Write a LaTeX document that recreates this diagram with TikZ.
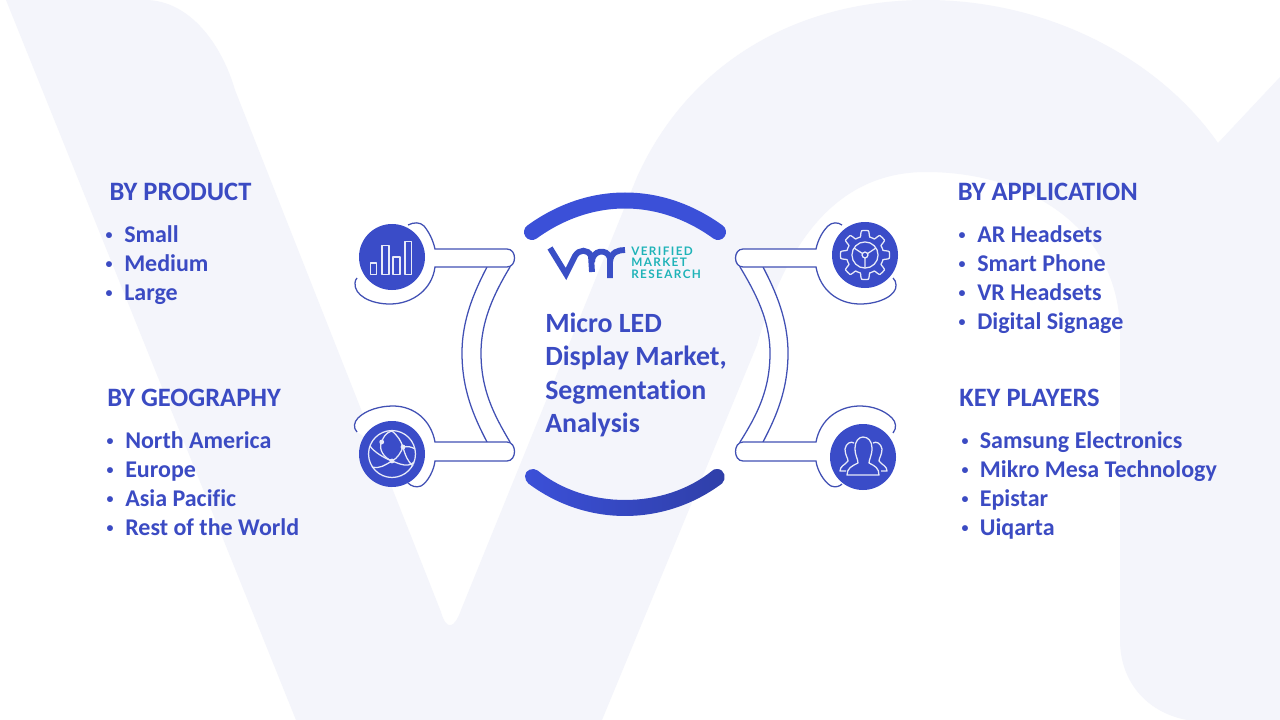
\documentclass[tikz,border=0pt]{standalone}
\usepackage{fontspec}
\setmainfont[Ligatures=CommonOff]{Carlito}
\newfontfamily\logofont[LetterSpace=12]{Lato}
\definecolor{wash}{HTML}{F4F5FB}
\definecolor{ink}{HTML}{3B4BC3}
\definecolor{ringblue}{HTML}{3B50D8}
\definecolor{ringdark}{HTML}{2F3FA8}
\definecolor{outline}{HTML}{4150B4}
\definecolor{disc}{HTML}{3A4CC8}
\definecolor{teal}{HTML}{1FB3B8}
\definecolor{logoblue}{HTML}{3A4FC6}
\tikzset{
  heading/.style={anchor=base west,inner sep=0pt,text=ink,font=\fontsize{19.9}{22}\selectfont\bfseries},
  entry/.style={anchor=base west,inner sep=0pt,text=ink,font=\fontsize{18}{20}\selectfont\bfseries},
  dotmark/.style={anchor=base,inner sep=0pt,text=ink,font=\fontsize{10.5}{11}\selectfont\bfseries},
  title/.style={anchor=base west,inner sep=0pt,text=ink,font=\fontsize{20.9}{23}\selectfont\bfseries},
  logotext/.style={anchor=base west,inner sep=0pt,text=teal,font=\fontsize{8.8}{9}\selectfont\logofont\bfseries},
  disc/.style={circle,fill=disc,draw=none,minimum size=49.5pt,inner sep=0pt},
  wire/.style={draw=outline,line width=0.95pt},
  mask/.style={fill=white,draw=none},
  glyph/.style={draw=white!88!disc,line width=0.95pt,line join=round},
  logostroke/.style={draw=logoblue,line width=4.4pt,line join=miter}
}
\newcommand{\listitem}[5]{%
  \node[dotmark] (#1b) at (#2,#4-3) {•};
  \node[entry] (#1) at (#3,#4+0.8) {#5};
}
\begin{document}
\begin{tikzpicture}[x=0.75pt,y=-0.75pt]
\useasboundingbox (0,0) rectangle (1280,720);
\fill[white] (0,0) rectangle (1280,720);
% watermark
\fill[wash] (6,0) -- (145,0) .. controls (190,0) and (222,45) .. (235,90)
  -- (441,612) .. controls (446,630) and (454,630) .. (461,610)
  -- (637,177) .. controls (690,60) and (800,0) .. (926,0)
  .. controls (1050,0) and (1160,60) .. (1218,143)
  -- (1280,77) -- (1280,720) -- (1187,720)
  .. controls (1145,712) and (1120,680) .. (1120,640)
  -- (1120,333) .. controls (1120,230) and (1030,172) .. (926,172)
  .. controls (835,172) and (785,245) .. (757,345)
  -- (602,720) -- (296,720) -- cycle;
% top and bottom arcs
\draw[draw=ringblue,line width=12pt,line cap=round] (532,232) .. controls (590,190) and (660,190) .. (718,232);
\shade[left color=ringblue,right color=ringdark]
  (528.4,483.5) .. controls (586,526.8) and (664,526.8) .. (722,483.5)
  .. controls (727,479) and (725,469) .. (717,469) .. controls (714,469) and (713,470) .. (712.5,470.5)
  .. controls (664,509.8) and (586,509.8) .. (537.6,470.5)
  .. controls (533,467) and (525,470) .. (525,476) .. controls (525,479) and (526.5,482) .. (528.4,483.5) -- cycle;
% left bands
\path[mask] (487,267) .. controls (474,292) and (462,320) .. (462,353) .. controls (462,390) and (474,417) .. (487,442)
  -- (510,442) .. controls (494,415) and (481,390) .. (481,353) .. controls (481,320) and (495,292) .. (510,267) -- cycle;
\draw[wire] (487,267) .. controls (474,292) and (462,320) .. (462,353) .. controls (462,390) and (474,417) .. (487,442);
\draw[wire] (510,267) .. controls (495,292) and (481,320) .. (481,353) .. controls (481,390) and (494,415) .. (510,442);
% right bands
\path[mask] (740,267) .. controls (755,292) and (770,320) .. (770,353) .. controls (770,390) and (757,415) .. (740,442)
  -- (763,442) .. controls (776,417) and (788,390) .. (788,353) .. controls (788,320) and (776,292) .. (763,267) -- cycle;
\draw[wire] (740,267) .. controls (755,292) and (770,320) .. (770,353) .. controls (770,390) and (757,415) .. (740,442);
\draw[wire] (763,267) .. controls (776,292) and (788,320) .. (788,353) .. controls (788,390) and (776,417) .. (763,442);
% top-left connector
\path[mask] (408,225) .. controls (414,222) and (420,222) .. (424,226) .. controls (429,232) and (433,240) .. (435,249)
  -- (507,249) .. controls (517,249) and (517,267) .. (507,267) -- (435,267)
  .. controls (432,290) and (412,304) .. (390,304) .. controls (370,304) and (354,295) .. (355,283)
  .. controls (355,281) and (356,279) .. (357,278) -- (392,257) -- cycle;
\draw[wire] (408,225) .. controls (414,222) and (420,222) .. (424,226) .. controls (429,232) and (433,240) .. (435,249)
  -- (507,249) .. controls (517,249) and (517,267) .. (507,267) -- (435,267)
  .. controls (432,290) and (412,304) .. (390,304) .. controls (370,304) and (354,295) .. (355,283)
  .. controls (355,281) and (356,279) .. (357,278);
% bottom-left connector
\path[mask] (357,432) .. controls (353,428) and (354,422) .. (358,418) .. controls (366,410) and (380,406) .. (393,406)
  .. controls (414,406) and (431,420) .. (435,442)
  -- (507,442) .. controls (517,442) and (517,461) .. (507,461) -- (435,461)
  .. controls (434,470) and (428,482) .. (421,486) .. controls (416,488) and (411,486) .. (408,483) -- (392,454) -- cycle;
\draw[wire] (357,432) .. controls (353,428) and (354,422) .. (358,418) .. controls (366,410) and (380,406) .. (393,406)
  .. controls (414,406) and (431,420) .. (435,442)
  -- (507,442) .. controls (517,442) and (517,461) .. (507,461) -- (435,461)
  .. controls (434,470) and (428,482) .. (421,486) .. controls (416,488) and (411,486) .. (408,483);
% top-right connector
\path[mask] (842,225) .. controls (838,222) and (832,222) .. (828,226) .. controls (822,232) and (818,240) .. (816,249)
  -- (743,249) .. controls (733,249) and (733,267) .. (743,267) -- (816,267)
  .. controls (820,290) and (838,304) .. (860,304) .. controls (880,304) and (897,295) .. (896,285)
  .. controls (896,282) and (895,280) .. (893,278) -- (865,254) -- cycle;
\draw[wire] (842,225) .. controls (838,222) and (832,222) .. (828,226) .. controls (822,232) and (818,240) .. (816,249)
  -- (743,249) .. controls (733,249) and (733,267) .. (743,267) -- (816,267)
  .. controls (820,290) and (838,304) .. (860,304) .. controls (880,304) and (897,295) .. (896,285)
  .. controls (896,282) and (895,280) .. (893,278);
% bottom-right connector
\path[mask] (893,433) .. controls (897,428) and (896,422) .. (892,418) .. controls (884,410) and (872,406) .. (860,406)
  .. controls (838,406) and (820,420) .. (816,442)
  -- (743,442) .. controls (733,442) and (733,461) .. (743,461) -- (816,461)
  .. controls (817,470) and (824,482) .. (831,486) .. controls (836,488) and (840,486) .. (842,484) -- (863,457) -- cycle;
\draw[wire] (893,433) .. controls (897,428) and (896,422) .. (892,418) .. controls (884,410) and (872,406) .. (860,406)
  .. controls (838,406) and (820,420) .. (816,442)
  -- (743,442) .. controls (733,442) and (733,461) .. (743,461) -- (816,461)
  .. controls (817,470) and (824,482) .. (831,486) .. controls (836,488) and (840,486) .. (842,484);
% discs
\node[disc] (chart) at (392,257) {};
\node[disc] (globe) at (392,454) {};
\node[disc] (gear) at (865,255) {};
\node[disc] (people) at (863,457) {};
% bar chart icon
\draw[glyph] (370.7,263) rectangle (376.7,274.5);
\draw[glyph] (382,245.7) rectangle (389,274.5);
\draw[glyph] (393,257) rectangle (400,274.5);
\draw[glyph] (405,241.7) rectangle (411.7,274.5);
% globe icon
\draw[glyph] (392,454) circle[radius=17.6pt];
\draw[glyph] (392,431) .. controls (385,433) and (383,438) .. (381.7,442) .. controls (378,449) and (384,458) .. (392,461);
\draw[glyph] (392,431) .. controls (398,436) and (401,441) .. (403,447) .. controls (405,455) and (408,462) .. (413,466);
\draw[glyph] (370,446) .. controls (374,452) and (384,458) .. (392,461) .. controls (398,458) and (401,452) .. (403,447) .. controls (408,446) and (412,447) .. (415,449);
\draw[glyph] (372,467) .. controls (380,469) and (385,465) .. (392,461) .. controls (400,464) and (408,468) .. (414,462);
\fill[white!88!disc] (381.7,442) circle[radius=1.8pt] (403,447) circle[radius=1.8pt] (392,461) circle[radius=1.8pt];
% gear icon
\draw[glyph] plot[domain=0:360,samples=193,variable=\t,smooth] ({865+(21.5+3*max(-1,min(1,2.6*cos(8*\t))))*cos(\t)},{255+(21.5+3*max(-1,min(1,2.6*cos(8*\t))))*sin(\t)}) -- cycle;
\draw[glyph] (865,255) circle[radius=9.8pt];
\draw[glyph] (865,255) circle[radius=2.2pt];
\draw[glyph] (865,258) -- (865,268) (862.4,253.5) -- (854,248) (867.6,253.5) -- (876,248);
% people icon
\draw[glyph] (847,475) .. controls (847,468) and (852,466) .. (858,463) .. controls (858,459) and (855,456) .. (855,448)
  .. controls (855,441) and (859,437) .. (863,437) .. controls (868,437) and (872,441) .. (872,448)
  .. controls (872,456) and (869,459) .. (869,463) .. controls (875,466) and (879,468) .. (879,475) -- cycle;
\draw[glyph] (854,443) .. controls (851,441) and (846,443) .. (845,449) .. controls (845,455) and (848,458) .. (848,461)
  .. controls (845,465) and (840,466) .. (840,471) -- (846,471);
\draw[glyph] (873,443) .. controls (876,441) and (881,443) .. (882,449) .. controls (882,455) and (879,458) .. (879,461)
  .. controls (882,465) and (887,466) .. (887,471) -- (881,471);
% logo
\draw[logostroke] (550,248) -- (566,274) -- (575,256) .. controls (579,249) and (588,249) .. (591,256) -- (592,272);
\draw[logostroke] (592,262) .. controls (592,250) and (607,248) .. (610,258) -- (610,278);
\draw[logostroke] (610,262) .. controls (611,252) and (618,250) .. (625,250);
\node[logotext] (logo1) at (631,255) {VERIFIED};
\node[logotext] (logo2) at (631,266.7) {MARKET};
\node[logotext] (logo3) at (631,278) {RESEARCH};
% centre title
\node[title] (t1) at (545,332.7) {Micro LED};
\node[title] (t2) at (545,365.7) {Display Market,};
\node[title] (t3) at (545,399.2) {Segmentation};
\node[title] (t4) at (545,432.7) {Analysis};
% lists
\node[heading] (hp) at (109.4,200.8) {BY PRODUCT};
\listitem{p1}{109}{124}{242}{Small}
\listitem{p2}{109}{124}{271}{Medium}
\listitem{p3}{109}{124}{300}{Large}
\node[heading] (hg) at (107,406.3) {BY GEOGRAPHY};
\listitem{g1}{110}{125}{448}{North America}
\listitem{g2}{110}{125}{477}{Europe}
\listitem{g3}{110}{125}{506}{Asia Pacific}
\listitem{g4}{110}{125}{535}{Rest of the World}
\node[heading] (ha) at (957.5,200.8) {BY APPLICATION};
\listitem{a1}{962}{977}{242}{AR Headsets}
\listitem{a2}{962}{977}{271}{Smart Phone}
\listitem{a3}{962}{977}{300}{VR Headsets}
\listitem{a4}{962}{977}{329}{Digital Signage}
\node[heading] (hk) at (959,406.3) {KEY PLAYERS};
\listitem{k1}{965}{979.6}{448}{Samsung Electronics}
\listitem{k2}{965}{979.6}{477}{Mikro Mesa Technology}
\listitem{k3}{965}{979.6}{506}{Epistar}
\listitem{k4}{965}{979.6}{535}{Uiqarta}
\end{tikzpicture}
\end{document}
